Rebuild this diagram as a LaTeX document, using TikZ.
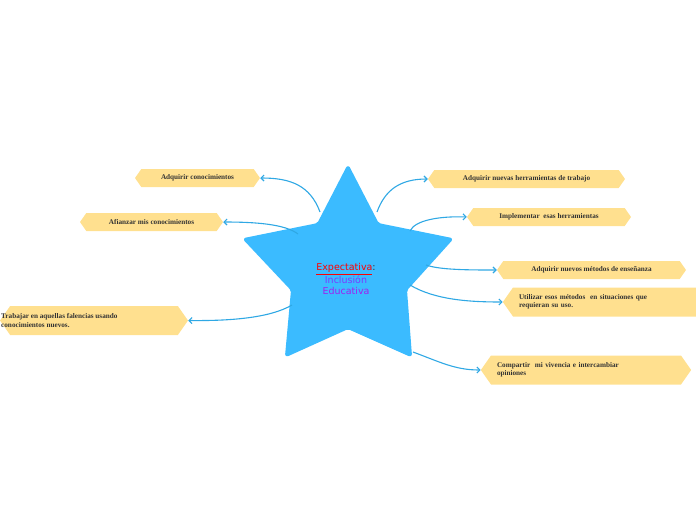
\documentclass[tikz,border=0pt]{standalone}
\usepackage{fontspec}
\setmainfont{Liberation Serif}
\newfontfamily\sansf{DejaVu Sans}
\usetikzlibrary{shapes.symbols,arrows.meta}
\definecolor{starc}{HTML}{3BBBFF}
\definecolor{linec}{HTML}{2FA8E4}
\definecolor{boxc}{HTML}{FFE08F}
\definecolor{txtc}{HTML}{333333}
\tikzset{
 leaf/.style={signal, signal to=west and east, signal pointer angle=110, fill=boxc, draw=none,
   font=\fontsize{7.2}{8.5}\selectfont\bfseries, text=txtc, inner xsep=6pt, inner ysep=2pt, align=left, anchor=center},
 conn/.style={draw=linec, line width=1.1pt, -{Straight Barb[length=3pt,width=6pt]}},
}
\begin{document}
\begin{tikzpicture}[x=1pt,y=-1pt]
\useasboundingbox (0,0) rectangle (696,520);
% star
\draw[fill=starc, draw=starc, line width=2pt, line join=round, rounded corners=2pt]
 (348,166) -- (378,224) -- (452,239) -- (406,290) -- (411,356) -- (348,328)
 -- (286,356) -- (292,290) -- (244,239) -- (318,224) -- cycle;
\node[font=\sansf\fontsize{9.5}{11}\selectfont, align=center] (c) at (346,279)
 {\textcolor{red}{\underline{Expectativa}}\textcolor{txtc}{:}\\
  \textcolor[HTML]{7A3BFF}{Inclusión}\\ \textcolor[HTML]{A020F0}{Educativa}};
% nodes
\node[leaf, minimum width=125pt, minimum height=18pt] (n1) at (197.5,178) {Adquirir conocimientos};
\node[leaf, minimum width=143pt, minimum height=18pt] (n2) at (151.5,222) {Afianzar mis conocimientos};
\node[leaf, minimum width=188pt, minimum height=29pt] (n3) at (94,320.5) {};
\node[font=\fontsize{7.2}{8.5}\selectfont\bfseries, text=txtc, align=left, anchor=west, inner sep=0pt] (t3) at (1,320.5) {Trabajar en aquellas falencias usando\\conocimientos nuevos.};
\node[leaf, minimum width=197pt, minimum height=18pt] (n4) at (526.5,179) {Adquirir nuevas herramientas de trabajo};
\node[leaf, minimum width=164pt, minimum height=18pt] (n5) at (549,217) {Implementar\ \ esas herramientas};
\node[leaf, minimum width=189pt, minimum height=18pt] (n6) at (591.5,270) {Adquirir nuevos métodos de enseñanza};
\node[leaf, minimum width=200pt, minimum height=29pt, text width=174pt] (n7) at (606,302) {Utilizar esos métodos\ \ en situaciones que\\requieran su uso.};
\node[leaf, minimum width=204pt, minimum height=29pt, text width=178pt] (n8) at (586,370) {Compartir\ \ mi vivencia e intercambiar\\opiniones};
% connectors
\coordinate (s1) at (320,212); \coordinate (s2) at (298,234); \coordinate (s3) at (292,305);
\coordinate (s4) at (377,212); \coordinate (s5) at (410,231); \coordinate (s6) at (426,265);
\coordinate (s7) at (410,285); \coordinate (s8) at (413,352);
\draw[conn] (s1) .. controls (310,185) and (290,178) .. (n1.east);
\draw[conn] (s2) .. controls (285,224) and (255,222) .. (n2.east);
\draw[conn] (s3) .. controls (270,318) and (230,321) .. (n3.east);
\draw[conn] (s4) .. controls (385,190) and (400,179) .. (n4.west);
\draw[conn] (s5) .. controls (415,220) and (440,216) .. (n5.west);
\draw[conn] (s6) .. controls (440,270) and (470,270) .. (n6.west);
\draw[conn] (s7) .. controls (435,300) and (470,302) .. (n7.west);
\draw[conn] (s8) .. controls (440,362) and (455,370) .. (n8.west);
\end{tikzpicture}
\end{document}
